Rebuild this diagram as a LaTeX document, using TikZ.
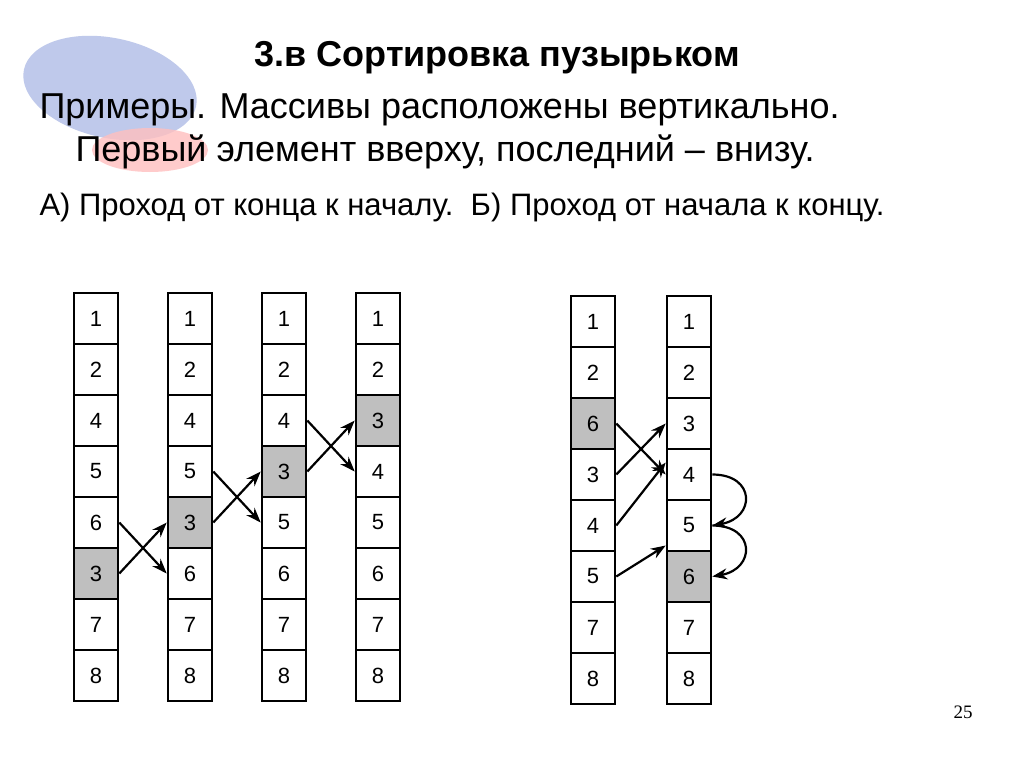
\documentclass[tikz,border=0pt]{standalone}
\usepackage{fontspec}
\setmainfont{Liberation Sans}
\newfontfamily\pagefont{Liberation Serif}
\usetikzlibrary{arrows.meta}
\tikzset{
    arrcell/.style={draw=black,line width=2.6pt,minimum width=44pt,minimum height=51pt,inner sep=0pt,font=\fontsize{22}{22}\selectfont},
    hit/.style={fill=black!25},
    swap/.style={line width=2.2pt,-{Stealth[length=15pt,width=11pt]}}
}
\begin{document}
\begin{tikzpicture}[x=1pt,y=-1pt]
    \useasboundingbox (0,0) rectangle (1024,768);
    \fill [white] (0,0) rectangle (1024,768);
    % decoration
    \fill [cyan!40!blue!25, rotate around={-12:(110,88)}] (110,88) ellipse (88 and 50);
    \fill [red!25, opacity=0.8] (150,150) ellipse (58 and 22);
    % texts
    \node (title) at (497,58) {\fontsize{36}{36}\selectfont\bfseries 3.в Сортировка пузырьком};
    \node [anchor=west] (line1) at (36,110) {\fontsize{36}{36}\selectfont Примеры. Массивы расположены вертикально.};
    \node [anchor=west] (line2) at (72,152) {\fontsize{36}{36}\selectfont Первый элемент вверху, последний -- внизу.};
    \node [anchor=west] (line3) at (36,207) {\fontsize{31}{31}\selectfont А) Проход от конца к началу.\ \ Б) Проход от начала к концу.};
    \node (page) at (963,712) {\pagefont\fontsize{19}{19}\selectfont 25};
    % variant A
    \foreach \c/\x/\vals/\s in {1/96/{1,2,4,5,6,3,7,8}/5, 2/190/{1,2,4,5,3,6,7,8}/4, 3/284/{1,2,4,3,5,6,7,8}/3, 4/378/{1,2,3,4,5,6,7,8}/2}{
        \foreach \v [count=\r from 0] in \vals {
            \ifnum\r=\s
                \node [arrcell,hit] (a\c\r) at (\x,318.5+51*\r) {\v};
            \else
                \node [arrcell] (a\c\r) at (\x,318.5+51*\r) {\v};
            \fi
        }
    }
    \draw [swap] (a14.east) -- (a25.west);
    \draw [swap] (a15.east) -- (a24.west);
    \draw [swap] (a23.east) -- (a34.west);
    \draw [swap] (a24.east) -- (a33.west);
    \draw [swap] (a32.east) -- (a43.west);
    \draw [swap] (a33.east) -- (a42.west);
    % variant B
    \foreach \c/\x/\vals/\s in {1/593/{1,2,6,3,4,5,7,8}/2, 2/689/{1,2,3,4,5,6,7,8}/5}{
        \foreach \v [count=\r from 0] in \vals {
            \ifnum\r=\s
                \node [arrcell,hit] (b\c\r) at (\x,321.5+51*\r) {\v};
            \else
                \node [arrcell] (b\c\r) at (\x,321.5+51*\r) {\v};
            \fi
        }
    }
    \draw [swap] (b12.east) -- (b23.west);
    \draw [swap] (b13.east) -- (b22.west);
    \draw [swap] (b14.east) -- ([yshift=12pt]b23.west);
    \draw [swap] (b15.east) -- ([yshift=-20pt]b24.west);
    \draw [swap] (b23.east) to [out=0,in=10,looseness=2.2] (b24.east);
    \draw [swap] (b24.east) to [out=0,in=10,looseness=2.2] (b25.east);
\end{tikzpicture}
\end{document}
